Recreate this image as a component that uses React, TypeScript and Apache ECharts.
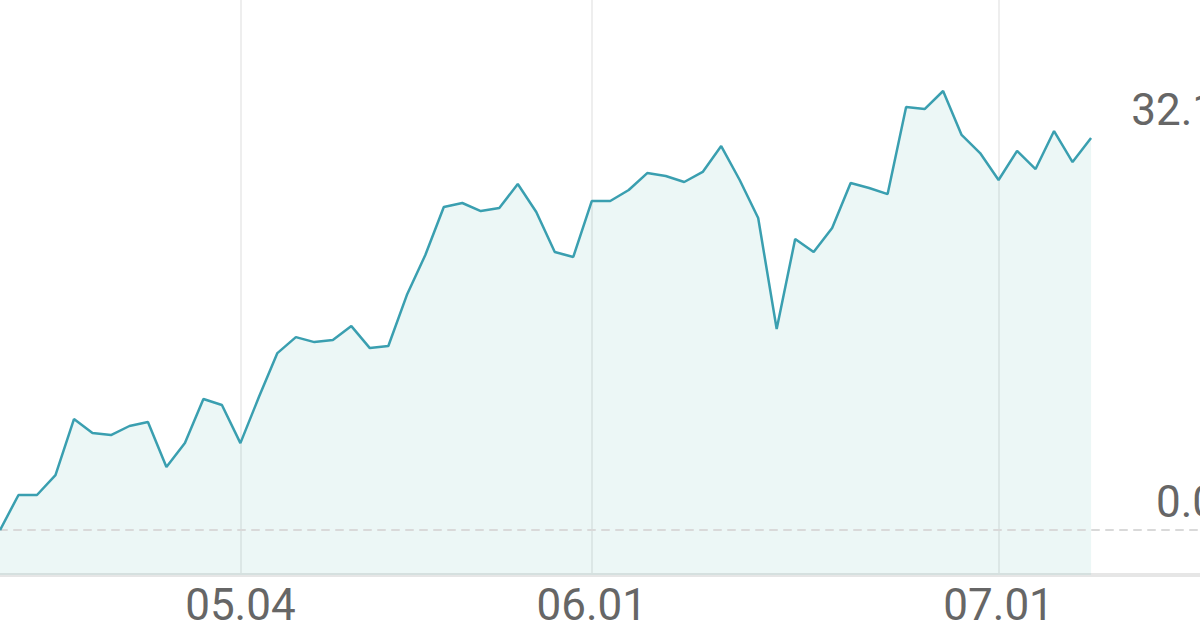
import { useEffect, useRef } from 'react'
import * as echarts from 'echarts'

const dates = [
  '04.10', '04.13', '04.14', '04.16', '04.17', '04.20', '04.21', '04.22', '04.23', '04.24',
  '04.27', '04.28', '04.29', '05.04', '05.06', '05.07', '05.08', '05.11', '05.12', '05.13',
  '05.14', '05.15', '05.18', '05.19', '05.20', '05.21', '05.22', '05.25', '05.26', '05.27',
  '05.28', '05.29', '06.01', '06.02', '06.03', '06.04', '06.05', '06.08', '06.09', '06.10',
  '06.11', '06.12', '06.15', '06.16', '06.17', '06.18', '06.19', '06.22', '06.23', '06.24',
  '06.25', '06.26', '06.29', '06.30', '07.01', '07.02', '07.03', '07.06', '07.07', '07.08'
]

// cumulative return (%)
const returns = [
  0.0, 2.87, 2.87, 4.5, 9.09, 7.94, 7.78, 8.52, 8.84, 5.16,
  7.12, 10.73, 10.24, 7.12, 10.89, 14.49, 15.8, 15.39, 15.56, 16.7,
  14.9, 15.07, 19.24, 22.52, 26.45, 26.78, 26.12, 26.37, 28.33, 26.04,
  22.76, 22.36, 26.94, 26.94, 27.84, 29.23, 28.99, 28.5, 29.32, 31.44,
  28.66, 25.55, 16.46, 23.83, 22.76, 24.73, 28.41, 28.01, 27.51, 34.64,
  34.47, 35.95, 32.35, 30.87, 28.66, 31.04, 29.56, 32.67, 30.13, 32.1
]

const labelDates = ['05.04', '06.01', '07.01']
const yLabels = [0, 32.1]

const LINE = '#3a9fb0'
const AREA = 'rgba(70, 175, 170, 0.1)'
const TEXT = '#666666'

export default function App() {
  const chartRef = useRef<HTMLDivElement>(null)

  useEffect(() => {
    if (!chartRef.current) return
    const chart = echarts.init(chartRef.current, undefined, { renderer: 'svg' })

    const showIdx = (i: number) => labelDates.includes(dates[i])

    const option: echarts.EChartsOption = {
      animation: false,
      grid: { left: 0, right: -2, top: 0, bottom: 55, outerBoundsMode: 'none' } as any,
      xAxis: [
        {
          // date axis at the bottom
          type: 'category',
          position: 'bottom',
          boundaryGap: false,
          data: dates,
          max: 65,
          axisLine: { show: true, onZero: false, lineStyle: { color: '#e6e6e6', width: 4 } },
          axisTick: { show: false },
          axisLabel: {
            interval: (i: number) => showIdx(i),
            color: TEXT,
            fontFamily: 'Roboto',
            fontSize: 44,
            margin: 8
          },
          splitLine: {
            show: true,
            interval: (i: number) => showIdx(i),
            lineStyle: { color: '#eeeeee', width: 2 }
          }
        },
        {
          // dashed zero line
          type: 'category',
          position: 'bottom',
          boundaryGap: false,
          data: dates,
          max: 65,
          z: 3,
          axisLine: { show: true, onZero: true, lineStyle: { color: '#d9d9d9', type: [7, 7], width: 2 } },
          axisTick: { show: false },
          axisLabel: { show: false },
          splitLine: { show: false }
        }
      ],
      yAxis: {
        type: 'value',
        position: 'right',
        min: -3.68,
        max: 43.4,
        axisLine: { show: false },
        axisTick: { show: false },
        splitLine: { show: false },
        axisLabel: {
          inside: false,
          customValues: yLabels,
          formatter: (v: number) => v.toFixed(1),
          align: 'right',
          verticalAlign: 'bottom',
          margin: 15,
          padding: [0, 0, 6, 0],
          color: TEXT,
          fontFamily: 'Roboto',
          fontSize: 44
        } as any
      },
      series: [
        {
          type: 'line',
          data: returns,
          showSymbol: false,
          smooth: false,
          lineStyle: { color: LINE, width: 2.5 },
          itemStyle: { color: LINE },
          areaStyle: { color: AREA, opacity: 1, origin: 'start' }
        }
      ]
    }

    chart.setOption(option)
    return () => chart.dispose()
  }, [])

  return (
    <div
      ref={chartRef}
      style={{ position: 'absolute', left: 0, top: 0, width: 1200, height: 630, background: '#fff' }}
    />
  )
}
